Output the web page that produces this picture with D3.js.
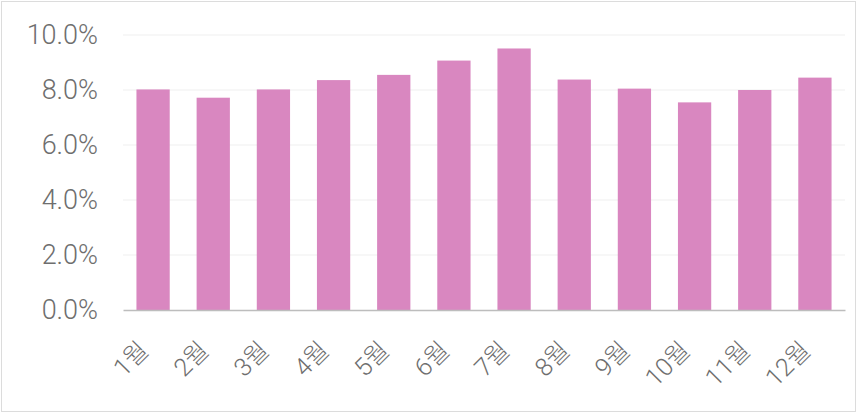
<!DOCTYPE html>
<html><head><meta charset="utf-8">
<script src="https://cdn.jsdelivr.net/npm/d3@7"></script>
<style>
html,body{margin:0;padding:0;background:#fff;}
svg{display:block;}
</style></head>
<body>
<svg id="chart" width="860" height="416"></svg>
<script>
const categories = ["1월","2월","3월","4월","5월","6월","7월","8월","9월","10월","11월","12월"];
const values = [8.02, 7.72, 8.02, 8.36, 8.55, 9.07, 9.51, 8.38, 8.05, 7.55, 8.0, 8.45];
const yTicks = [0, 2, 4, 6, 8, 10];

const svg = d3.select("#chart");
const W = 860, H = 416;
const m = {left: 123, right: 15, top: 35, bottom: 106};

svg.append("rect").attr("x", 1.5).attr("y", 1.5).attr("width", W - 6).attr("height", H - 6)
  .attr("fill", "#fff").attr("stroke", "#dcdcdc").attr("stroke-width", 1);

const x = d3.scaleBand().domain(categories).range([m.left, W - m.right]).paddingInner(0.447).paddingOuter(0.2235);
const y = d3.scaleLinear().domain([0, 10]).range([H - m.bottom, m.top]);

const grid = svg.append("g");
grid.selectAll("line").data(yTicks.filter(d => d > 0)).join("line")
  .attr("x1", m.left).attr("x2", W - m.right)
  .attr("y1", d => y(d)).attr("y2", d => y(d))
  .attr("stroke", "#efefef").attr("stroke-width", 1.2);

const yAxis = svg.append("g").attr("transform", `translate(${m.left},0)`)
  .call(d3.axisLeft(y).tickValues(yTicks).tickFormat(d => d.toFixed(1) + "%").tickSize(0).tickPadding(25));
yAxis.select(".domain").remove();
yAxis.selectAll("text").attr("font-family", "Roboto, 'Noto Sans', sans-serif").attr("font-weight", 300)
  .attr("font-size", 27).attr("fill", "#6e6e6e");

svg.append("g").selectAll("rect").data(values).join("rect")
  .attr("x", (d, i) => x(categories[i]))
  .attr("width", x.bandwidth())
  .attr("y", d => y(d))
  .attr("height", d => y(0) - y(d))
  .attr("fill", "#d987c0");

const xAxis = svg.append("g").attr("transform", `translate(0,${y(0)})`)
  .call(d3.axisBottom(x).tickSize(0).tickPadding(0));
xAxis.select(".domain").attr("stroke", "#bdbdbd").attr("stroke-width", 1.5);
xAxis.selectAll("text")
  .attr("font-family", "Roboto, 'Noto Sans CJK KR', sans-serif").attr("font-weight", 300)
  .attr("font-size", 25).attr("fill", "#6e6e6e")
  .attr("text-anchor", "end").attr("dy", null)
  .attr("transform", "translate(-3,42) rotate(-45)");
</script>
</body></html>
